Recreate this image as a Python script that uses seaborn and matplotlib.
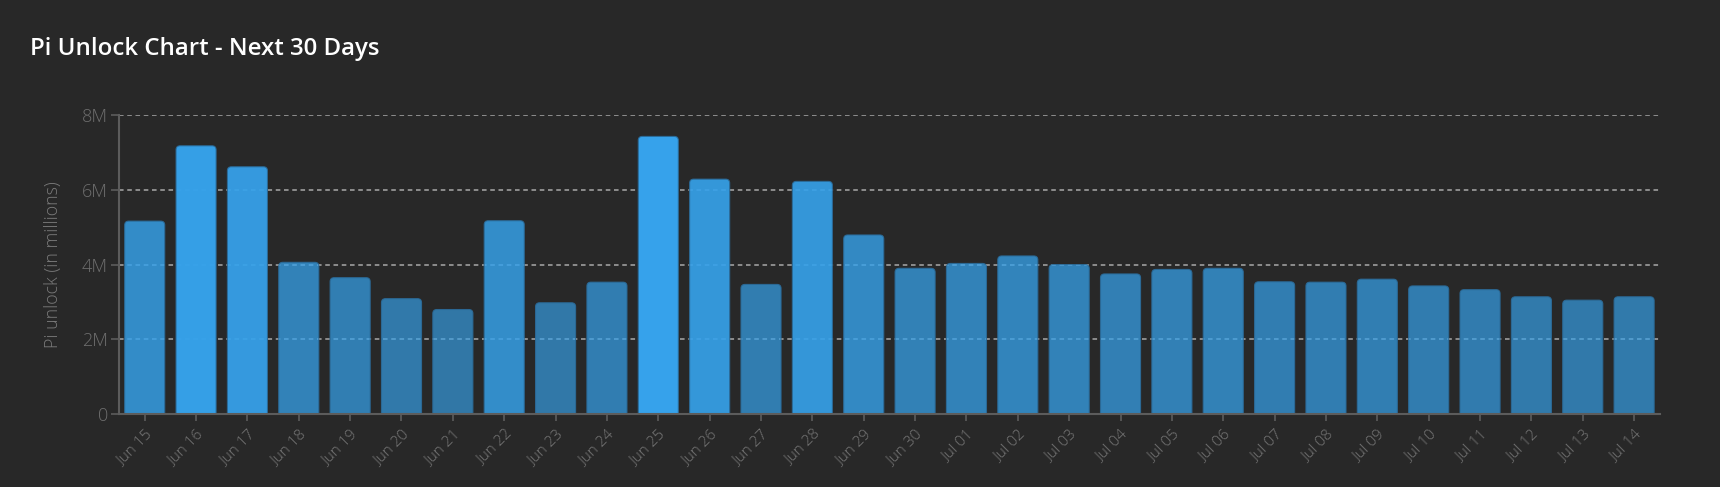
import numpy as np
import pandas as pd
import matplotlib
matplotlib.use("Agg")
import matplotlib.pyplot as plt
import seaborn as sns
from matplotlib.patches import FancyBboxPatch
from matplotlib.ticker import FuncFormatter

# data (millions of Pi)
dates = ["Jun 15", "Jun 16", "Jun 17", "Jun 18", "Jun 19", "Jun 20", "Jun 21",
         "Jun 22", "Jun 23", "Jun 24", "Jun 25", "Jun 26", "Jun 27", "Jun 28",
         "Jun 29", "Jun 30", "Jul 01", "Jul 02", "Jul 03", "Jul 04", "Jul 05",
         "Jul 06", "Jul 07", "Jul 08", "Jul 09", "Jul 10", "Jul 11", "Jul 12",
         "Jul 13", "Jul 14"]
unlock_m = [5.16, 7.17, 6.61, 4.06, 3.65, 3.09, 2.80, 5.17, 2.98, 3.53,
            7.42, 6.28, 3.47, 6.22, 4.79, 3.90, 4.03, 4.23, 4.00, 3.75,
            3.87, 3.90, 3.54, 3.53, 3.61, 3.43, 3.33, 3.14, 3.05, 3.14]
y_ticks = [0, 2e6, 4e6, 6e6, 8e6]

bg = "#282828"
blue = (54 / 255, 162 / 255, 235 / 255)

sns.set_theme(style="dark")
plt.rcParams['font.family'] = ['Open Sans', 'DejaVu Sans']

df = pd.DataFrame({"date": dates, "unlock": [v * 1e6 for v in unlock_m]})

fig, ax = plt.subplots(figsize=(17.2, 4.87), dpi=100)
fig.patch.set_facecolor(bg)
ax.set_facecolor(bg)
fig.subplots_adjust(left=0.0692, right=0.965, top=0.7645, bottom=0.149)

sns.barplot(data=df, x="date", y="unlock", color="#36a2eb", width=0.78,
            ax=ax, zorder=2)

ax.set_xlim(-0.5, len(dates) - 0.5)
ax.set_ylim(0, 8e6)
ax.set_yticks(y_ticks)
ax.yaxis.set_major_formatter(FuncFormatter(lambda v, p: "0" if v == 0 else f"{v / 1e6:.0f}M"))

ax.grid(axis='y', color='#a8a8a8', linestyle=(0, (3, 2.4)), linewidth=1.1)
ax.grid(axis='x', visible=False)
ax.set_axisbelow(True)

# rounded tops + opacity by size
vmin, vmax = min(unlock_m), max(unlock_m)
px_x = ax.bbox.width / (len(dates))
px_y = ax.bbox.height / 8e6
rx = 4 / px_x
ry = 4 / px_y
bars = list(ax.patches)
for p, v in zip(bars, unlock_m):
    a = 0.65 + 0.35 * (v - vmin) / (vmax - vmin)
    box = FancyBboxPatch((p.get_x(), -ry), p.get_width(), p.get_height() + ry,
                         boxstyle=f"round,pad=0,rounding_size={rx}",
                         mutation_aspect=ry / rx,
                         facecolor=(*blue, a),
                         edgecolor=(0.17, 0.42, 0.60, 0.9), linewidth=0.8,
                         zorder=2)
    p.remove()
    ax.add_patch(box)

for s in ["top", "right"]:
    ax.spines[s].set_visible(False)
for s in ["left", "bottom"]:
    ax.spines[s].set_color("#5c5c5c")
    ax.spines[s].set_linewidth(1.5)
    ax.spines[s].set_zorder(3)

ax.tick_params(axis='y', length=6, width=1.2, color='#5c5c5c', pad=2,
               labelsize=13, labelcolor='#6e6e6e', left=True)
ax.tick_params(axis='x', length=5, width=1.2, color='#5c5c5c', pad=4,
               labelsize=11, labelcolor='#767676', bottom=True)
for lab in ax.get_yticklabels():
    lab.set_fontweight('light')
for lab in ax.get_xticklabels():
    lab.set_rotation(45)
    lab.set_ha('right')
    lab.set_va('top')
    lab.set_rotation_mode('anchor')
    lab.set_fontweight('light')

ax.set_xlabel("")
ax.set_ylabel("Pi unlock (in millions)", color='#7a7a7a', fontsize=12.8,
              fontweight='light')
ax.yaxis.set_label_coords(-0.037, 0.5)

fig.text(30 / 1720, 1 - 55 / 487, "Pi Unlock Chart - Next 30 Days",
         ha='left', va='baseline', color='white', fontsize=17.3,
         fontweight='semibold')

fig.savefig("out.png", dpi=100, facecolor=bg)
